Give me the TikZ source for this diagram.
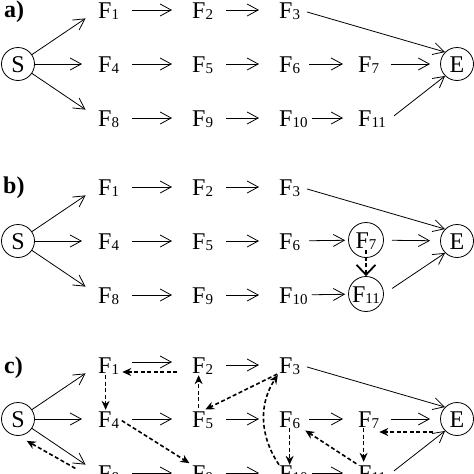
\documentclass[tikz,border=0pt]{standalone}
\usepackage{fontspec}
\setmainfont{Liberation Serif}
\usetikzlibrary{arrows.meta}
\newcommand{\bigfont}{\fontsize{24}{28}\selectfont}
\newcommand{\idx}[1]{\raisebox{-1.5pt}{\fontsize{15}{16}\selectfont #1}}
\tikzset{
        fnode/.style={anchor=west, inner sep=0pt, text height=16pt, text depth=0pt, font=\bigfont},
        endnode/.style={circle, draw, line width=0.8pt, minimum size=33pt, inner sep=0pt,
                        text height=16pt, text depth=0pt, font=\bigfont},
        panel label/.style={anchor=base west, inner sep=0pt, font=\bigfont\bfseries},
        flow/.style={line width=0.8pt, -{Straight Barb[length=11pt,width=12pt]}},
        row flow/.style={flow, shorten <=13pt, shorten >=20pt},
        depend/.style={line width=1.6pt, dash pattern=on 4pt off 2.5pt,
                       -{Stealth[open, length=9pt, width=8pt]}},
        barb depend/.style={line width=1.4pt, dash pattern=on 4pt off 2.5pt,
                       -{Straight Barb[length=10pt, width=19pt, line width=1.8pt]}},
}
\begin{document}
\begin{tikzpicture}[x=1pt, y=-1pt]
      \useasboundingbox (0,0) rectangle (474,474);
      \clip (0,0) rectangle (474,474);
      % a) SERIAL FLOWS
      \node[panel label] (a-lbl) at (4,17) {a)};
      \node[endnode] (a-S) at (18,64) {S};
      \node[endnode] (a-E) at (457,64) {E};
      \node[fnode] (a-F1) at (98,10) {F\idx{1}};
      \node[fnode] (a-F2) at (192,10) {F\idx{2}};
      \node[fnode] (a-F3) at (279,10) {F\idx{3}};
      \node[fnode] (a-F4) at (98,64) {F\idx{4}};
      \node[fnode] (a-F5) at (192,64) {F\idx{5}};
      \node[fnode] (a-F6) at (279,64) {F\idx{6}};
      \node[fnode] (a-F7) at (358,64) {F\idx{7}};
      \node[fnode] (a-F8) at (98,118) {F\idx{8}};
      \node[fnode] (a-F9) at (192,118) {F\idx{9}};
      \node[fnode] (a-F10) at (279,118) {F\idx{10}};
      \node[fnode] (a-F11) at (358,118) {F\idx{11}};
      \draw[flow, shorten >=15pt] (a-S) -- (a-F1.west);
      \draw[flow, shorten >=16pt] (a-S) -- (a-F4);
      \draw[flow, shorten >=15pt] (a-S) -- (a-F8.west);
      \draw[row flow] (a-F1) -- (a-F2);
      \draw[row flow] (a-F2) -- (a-F3);
      \draw[row flow] (a-F4) -- (a-F5);
      \draw[row flow] (a-F5) -- (a-F6);
      \draw[flow, shorten <=9pt, shorten >=15pt] (a-F6) -- (a-F7);
      \draw[row flow] (a-F8) -- (a-F9);
      \draw[row flow] (a-F9) -- (a-F10);
      \draw[flow, shorten <=4pt, shorten >=15pt] (a-F10) -- (a-F11);
      \draw[flow, shorten <=7pt] (a-F3.east) -- (a-E.north west);
      \draw[flow, shorten <=12pt, shorten >=10pt] (a-F7) -- (a-E);
      \draw[flow, shorten <=10pt] ([yshift=-4pt]a-F11.east) -- (a-E.south west);

      % b) F7 FEEDS F11
      \node[panel label] (b-lbl) at (3,193) {b)};
      \node[endnode] (b-S) at (18,241) {S};
      \node[endnode] (b-E) at (457,241) {E};
      \node[fnode] (b-F1) at (98,187) {F\idx{1}};
      \node[fnode] (b-F2) at (192,187) {F\idx{2}};
      \node[fnode] (b-F3) at (279,187) {F\idx{3}};
      \node[fnode] (b-F4) at (98,241) {F\idx{4}};
      \node[fnode] (b-F5) at (192,241) {F\idx{5}};
      \node[fnode] (b-F6) at (279,241) {F\idx{6}};
      \node[endnode, minimum size=35pt] (b-F7) at (366,240) {F\idx{7}};
      \node[fnode] (b-F8) at (98,295) {F\idx{8}};
      \node[fnode] (b-F9) at (192,295) {F\idx{9}};
      \node[fnode] (b-F10) at (279,295) {F\idx{10}};
      \node[endnode, minimum size=35pt] (b-F11) at (366,294) {F\idx{11}};
      \draw[flow, shorten >=15pt] (b-S) -- (b-F1.west);
      \draw[flow, shorten >=16pt] (b-S) -- (b-F4);
      \draw[flow, shorten >=15pt] (b-S) -- (b-F8.west);
      \draw[row flow] (b-F1) -- (b-F2);
      \draw[row flow] (b-F2) -- (b-F3);
      \draw[row flow] (b-F4) -- (b-F5);
      \draw[row flow] (b-F5) -- (b-F6);
      \draw[flow, shorten <=9pt, shorten >=3pt] (b-F6) -- (b-F7);
      \draw[row flow] (b-F8) -- (b-F9);
      \draw[row flow] (b-F9) -- (b-F10);
      \draw[flow, shorten <=4pt, shorten >=3pt] (b-F10) -- (b-F11);
      \draw[flow, shorten <=7pt] (b-F3.east) -- (b-E.north west);
      \draw[flow, shorten <=8pt, shorten >=10pt] (b-F7) -- (b-E);
      \draw[flow, shorten <=10pt] (b-F11.east) -- (b-E.south west);
      \draw[barb depend] ([yshift=-10pt]b-F7.center) -- (b-F11.north);

      % c) DEPENDENCIES BETWEEN FLOWS
      \node[panel label] (c-lbl) at (4,373) {c)};
      \node[endnode] (c-S) at (18,419) {S};
      \node[endnode] (c-E) at (457,419) {E};
      \node[fnode] (c-F1) at (98,365) {F\idx{1}};
      \node[fnode] (c-F2) at (192,365) {F\idx{2}};
      \node[fnode] (c-F3) at (279,365) {F\idx{3}};
      \node[fnode] (c-F4) at (98,419) {F\idx{4}};
      \node[fnode] (c-F5) at (192,419) {F\idx{5}};
      \node[fnode] (c-F6) at (279,419) {F\idx{6}};
      \node[fnode] (c-F7) at (358,419) {F\idx{7}};
      \node[fnode] (c-F8) at (98,473) {F\idx{8}};
      \node[fnode] (c-F9) at (192,473) {F\idx{9}};
      \node[fnode] (c-F10) at (279,473) {F\idx{10}};
      \node[fnode] (c-F11) at (358,473) {F\idx{11}};
      \draw[flow, shorten >=15pt] (c-S) -- (c-F1.west);
      \draw[flow, shorten >=16pt] (c-S) -- (c-F4);
      \draw[flow, shorten >=15pt] (c-S) -- (c-F8.west);
      \draw[row flow] ([yshift=3pt]c-F1.east) -- ([yshift=3pt]c-F2.west);
      \draw[row flow] (c-F2) -- (c-F3);
      \draw[row flow] (c-F4) -- (c-F5);
      \draw[row flow] (c-F5) -- (c-F6);
      \draw[flow, shorten <=9pt, shorten >=15pt] (c-F6) -- (c-F7);
      \draw[row flow] (c-F8) -- (c-F9);
      \draw[row flow] (c-F9) -- (c-F10);
      \draw[flow, shorten <=4pt, shorten >=15pt] (c-F10) -- (c-F11);
      \draw[flow, shorten <=7pt] (c-F3.east) -- (c-E.north west);
      \draw[flow, shorten <=12pt, shorten >=10pt] (c-F7) -- (c-E);
      \draw[flow, shorten <=10pt] ([yshift=-4pt]c-F11.east) -- (c-E.south west);
      % dependencies
      \draw[depend, shorten <=15pt, shorten >=3pt] ([yshift=-7pt]c-F2.west) -- ([yshift=-7pt]c-F1.east);
      \draw[depend, shorten <=2pt, shorten >=1pt] ([xshift=-3pt]c-F1.south) -- ([xshift=-3pt]c-F4.north);
      \draw[depend, shorten <=3pt, shorten >=2pt] ([xshift=-4pt]c-F5.north) -- ([xshift=-4pt]c-F2.south);
      \draw[depend, shorten <=2pt, shorten >=3pt] (c-F3.south west) -- (c-F5.north);
      \draw[depend, shorten >=2pt] (c-F10.north west) .. controls +(-20,-30) and +(-20,30) .. (c-F3.south west);
      \draw[depend, shorten <=3pt, shorten >=3pt] (c-F4.east) -- (c-F9.north west);
      \draw[depend, shorten <=26pt, shorten >=10pt] (c-F8.south west) -- (c-S.south);
      \draw[depend, shorten <=1pt] (c-F6.south) -- (c-F6.south |- c-F10.north);
      \draw[depend, shorten <=2pt, shorten >=6pt] (c-F11.north west) -- (c-F6.south east);
      \draw[depend, shorten <=1pt, shorten >=3pt] ([xshift=-5pt]c-F7.south) -- ([xshift=-5pt]c-F7.south |- c-F11.north);
      \draw[depend, shorten <=7pt] ([yshift=-13pt]c-E.west) -- ([yshift=-13pt]c-F7.east);
\end{tikzpicture}
\end{document}
